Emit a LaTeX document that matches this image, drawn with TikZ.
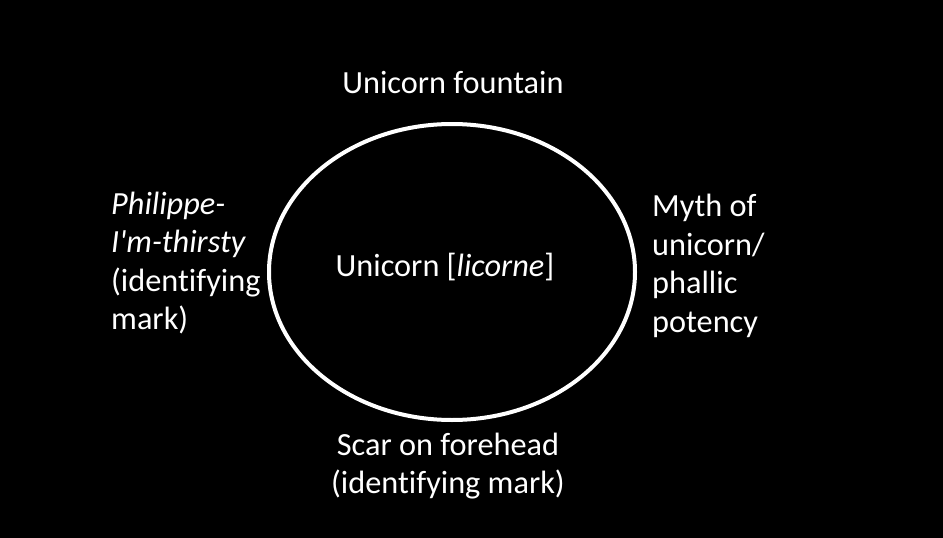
\documentclass[tikz,border=0pt]{standalone}
\usepackage{fontspec}
\setmainfont{Carlito}[Ligatures=NoCommon]
\usetikzlibrary{shapes.geometric}
\begin{document}
\begin{tikzpicture}[x=1pt,y=-1pt,
  lbl/.style={text=white,inner sep=0pt,font=\fontsize{32.3}{38.5}\selectfont},
  ring/.style={draw=white,line width=4pt}]
\fill[black] (0,0) rectangle (943,538);
\useasboundingbox (0,0) rectangle (943,538);
\node[ring,ellipse,minimum width=366,minimum height=296,inner sep=0pt] (core) at (452,272) {};
\node[lbl,anchor=center] (center) at (445,267) {Unicorn [\textit{licorne}]};
\node[lbl,anchor=center] (top) at (453,83) {Unicorn fountain};
\node[lbl,anchor=west,align=left] (left) at (111,263) {\textit{Philippe-}\\\textit{I\textquotesingle m-thirsty}\\(identifying\\mark)};
\node[lbl,anchor=west,align=left] (right) at (652,266) {Myth of\\unicorn/\\phallic\\potency};
\node[lbl,anchor=center,align=center] (bottom) at (448,466) {Scar on forehead\\(identifying mark)};
\end{tikzpicture}
\end{document}
